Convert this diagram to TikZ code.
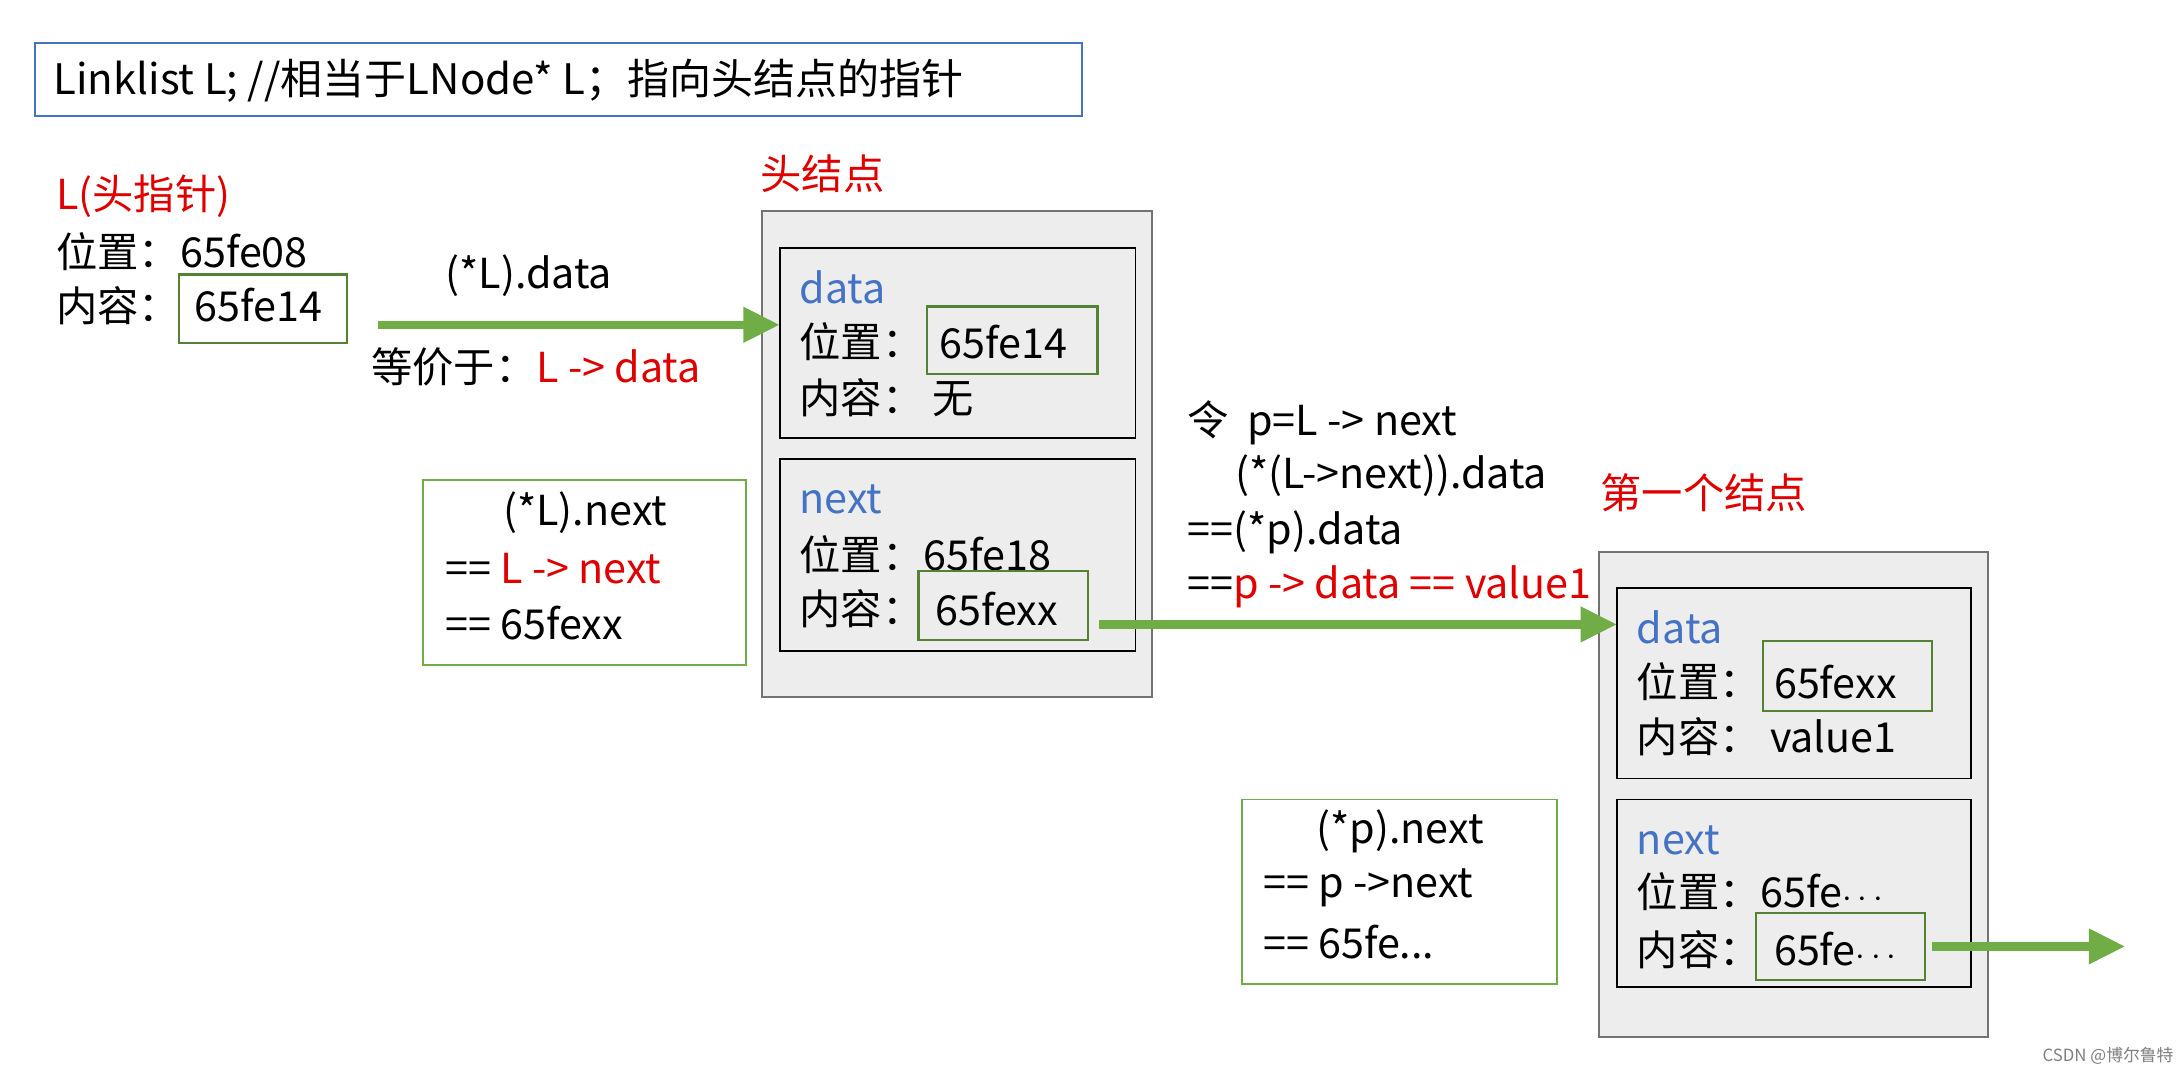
\documentclass[tikz,border=0pt]{standalone}
\usepackage{fontspec}
\setmainfont{Noto Sans CJK SC}
\usetikzlibrary{arrows.meta}
\definecolor{grn}{HTML}{70AD47}
\definecolor{dgrn}{HTML}{548235}
\definecolor{blu}{HTML}{4472C4}
\definecolor{rd}{HTML}{E00000}
\definecolor{bx}{HTML}{EDEDED}
\newcommand{\mydots}{\ensuremath{\cdots}}
\begin{document}
\begin{tikzpicture}[x=1pt,y=-1pt,
  t/.style={anchor=west,inner sep=0pt,font=\fontsize{29.5}{32}\selectfont},
  outer/.style={draw=gray!90!black,line width=1.5pt,fill=bx},
  inner/.style={draw=black,line width=1.2pt,fill=bx},
  gbox/.style={draw=dgrn,line width=1.6pt},
  lbox/.style={draw=grn,line width=1.2pt,fill=white},
  arr/.style={draw=grn,line width=6pt,-{Triangle[length=26pt,width=24pt]}}]
\useasboundingbox (0,0) rectangle (1560,764);
\fill[white] (0,0) rectangle (1560,764);
% top
\draw[blu,line width=1.3pt] (25,31) rectangle (773,83);
\node[t,font=\fontsize{30}{32}\selectfont] (title) at (38,58) {Linklist L; //相当于LNode* L；指向头结点的指针};
% L
\node[t,text=rd] (lh) at (40,140) {L(头指针)};
\node[t] (lpos) at (40,180) {位置：65fe08};
\node[t] (lcon) at (40,218) {内容：};
\draw[gbox] (128,196) rectangle (248,245);
\node[t] (lval) at (139,218) {65fe14};
% head node
\node[t,text=rd] (hh) at (543,124) {头结点};
\draw[outer] (544,151) rectangle (823,498);
\draw[inner] (557,177) rectangle (811,313);
\coordinate (hdw) at (557,232);
\node[t,text=blu] at (571,205) {data};
\node[t] at (571,244) {位置：};
\draw[gbox] (662,219) rectangle (784,267);
\node[t] at (671,244) {65fe14};
\node[t] at (571,284) {内容：\ 无};
\draw[inner] (557,328) rectangle (811,465);
\node[t,text=blu] at (571,357) {next};
\node[t] at (571,396) {位置：65fe18};
\node[t] at (571,435) {内容：};
\draw[gbox] (656,408) rectangle (777,457);
\node[t] (hnv) at (668,435) {65fexx};
% arrow 1
\coordinate (a1s) at (270,232);
\draw[arr] (a1s) -- (hdw);
\node[t] at (318,197) {(*L).data};
\node[t] at (265,262) {等价于：\textcolor{rd}{L -> data}};
% box L next
\draw[lbox] (302,343) rectangle (533,475);
\node[t,anchor=center] at (418,366) {(*L).next};
\node[t] at (318,406) {== \textcolor{rd}{L -> next}};
\node[t] at (318,445) {== 65fexx};
% middle text
\node[t] at (848,302) {令\ \ p=L -> next};
\node[t] at (882,340) {(*(L->next)).data};
\node[t] at (848,380) {==(*p).data};
\node[t] at (848,419) {==\textcolor{rd}{p -> data == value1}};
% first node
\node[t,text=rd] at (1143,352) {第一个结点};
\draw[outer] (1142,394) rectangle (1420,741);
\draw[inner] (1155,420) rectangle (1408,556);
\coordinate (fdw) at (1155,446);
\node[t,text=blu] at (1169,448) {data};
\node[t] at (1169,487) {位置：};
\draw[gbox] (1259,458) rectangle (1380,508);
\node[t] at (1267,487) {65fexx};
\node[t] at (1169,526) {内容：\ value1};
\draw[inner] (1155,571) rectangle (1408,705);
\node[t,text=blu] at (1169,600) {next};
\node[t] at (1169,637) {位置：65fe\mydots};
\node[t] at (1169,678) {内容：};
\draw[gbox] (1254,652) rectangle (1375,700);
\node[t] at (1267,678) {65fe\mydots};
% arrow 2
\coordinate (a2s) at (785,446);
\draw[arr] (a2s) -- (fdw);
% box p next
\draw[lbox] (887,571) rectangle (1112,703);
\node[t,anchor=center] at (1000,594) {(*p).next};
\node[t] at (902,634) {== p ->next};
\node[t] at (902,673) {== 65fe...};
% arrow 3
\coordinate (a3s) at (1380,676);
\coordinate (a3e) at (1518,676);
\draw[arr] (a3s) -- (a3e);
\node[anchor=east,text=gray,font=\fontsize{12}{14}\selectfont] (wm) at (1556,754) {CSDN @博尔鲁特};
\end{tikzpicture}
\end{document}
